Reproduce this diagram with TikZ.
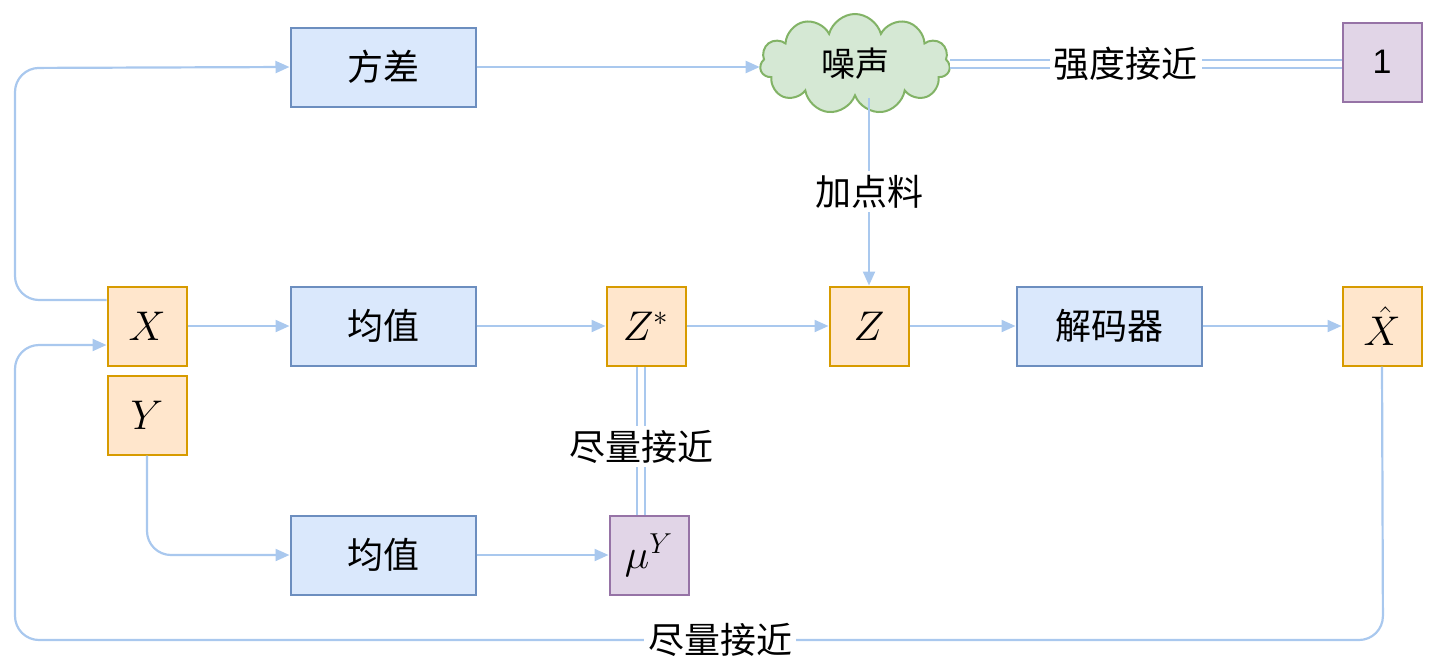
\documentclass[tikz,border=0pt]{standalone}
\usepackage{fontspec}
\setsansfont{Liberation Sans}
\newfontfamily\cjk{Noto Sans CJK SC}
\usetikzlibrary{shapes.symbols,arrows.meta}
\definecolor{ln}{HTML}{A9C8EE}
\definecolor{bf}{HTML}{DAE8FC}\definecolor{bd}{HTML}{6C8EBF}
\definecolor{of}{HTML}{FFE6CC}\definecolor{od}{HTML}{D79B00}
\definecolor{pf}{HTML}{E1D5E7}\definecolor{pd}{HTML}{9673A6}
\definecolor{gf}{HTML}{D5E8D4}\definecolor{gd}{HTML}{82B366}
\begin{document}
\begin{tikzpicture}[x=0.5pt,y=-0.5pt,
 bbox/.style={draw=bd,fill=bf,line width=1pt,minimum width=92.5pt,minimum height=39.5pt,font=\cjk\fontsize{18}{20}\selectfont},
 obox/.style={draw=od,fill=of,line width=1pt,minimum width=39.5pt,minimum height=39.5pt,font=\fontsize{22}{24}\selectfont},
 pbox/.style={draw=pd,fill=pf,line width=1pt,minimum width=39.5pt,minimum height=39.5pt},
 lab/.style={fill=white,inner sep=2pt,font=\cjk\fontsize{18}{20}\selectfont},
 conn/.style={draw=ln,line width=1.1pt,-{Triangle[length=7pt,width=6pt,fill=ln]}},
 dbl/.style={draw=ln,double=white,double distance=3pt,line width=0.8pt}]
\useasboundingbox (0,0) rectangle (1440,665);
\node[bbox] (fc) at (383,67) {方差};
\node[cloud,cloud puffs=11,aspect=2,draw=gd,fill=gf,line width=1pt,minimum width=95pt,minimum height=50pt,font=\cjk\fontsize{17}{20}\selectfont] (ns) at (855,64) {噪声};
\node[pbox,font=\sffamily\fontsize{17}{20}\selectfont] (one) at (1382,62) {1};
\node[obox] (x) at (147,326) {$X$};
\node[obox] (y) at (147,415) {$Y$};
\node[bbox] (m1) at (383,326) {均值};
\node[obox] (zs) at (646,326) {$Z^*$};
\node[obox] (z) at (869,326) {$Z$};
\node[bbox] (dec) at (1109,326) {解码器};
\node[obox] (xh) at (1382,326) {$\hat{X}$};
\node[bbox] (m2) at (383,555) {均值};
\node[pbox,font=\fontsize{22}{24}\selectfont] (mu) at (649,555) {$\mu^Y$};
\draw[dbl] (ns.east) -- (ns.east -| one.west) node[lab,midway,xshift=-10pt] {强度接近};
\draw[dbl] (zs.south -| 641,0) -- (mu.north -| 641,0) node[lab,midway,yshift=-3pt] {尽量接近};
\draw[conn] (ns.south -| z) -- (z.north) node[lab,pos=0.5] {加点料};
\draw[conn] (fc.east) -- (fc.east -| ns.west);
\draw[conn] (x) -- (m1); \draw[conn] (m1) -- (zs); \draw[conn] (zs) -- (z);
\draw[conn] (z) -- (dec); \draw[conn] (dec) -- (xh); \draw[conn] (m2) -- (mu);
\draw[conn,rounded corners=12pt] ([yshift=13pt]x.west) -- (15,300) -- (15,68) -- (fc.west);
\draw[conn,rounded corners=12pt] (y.south) -- (147,555) -- (m2.west);
\draw[conn,rounded corners=12pt] (xh.south) -- (1383,640) -- (15,640) -- (15,345) -- ([yshift=-9.5pt]x.west);
\node[lab] (bl) at (720,640) {尽量接近};
\end{tikzpicture}
\end{document}
